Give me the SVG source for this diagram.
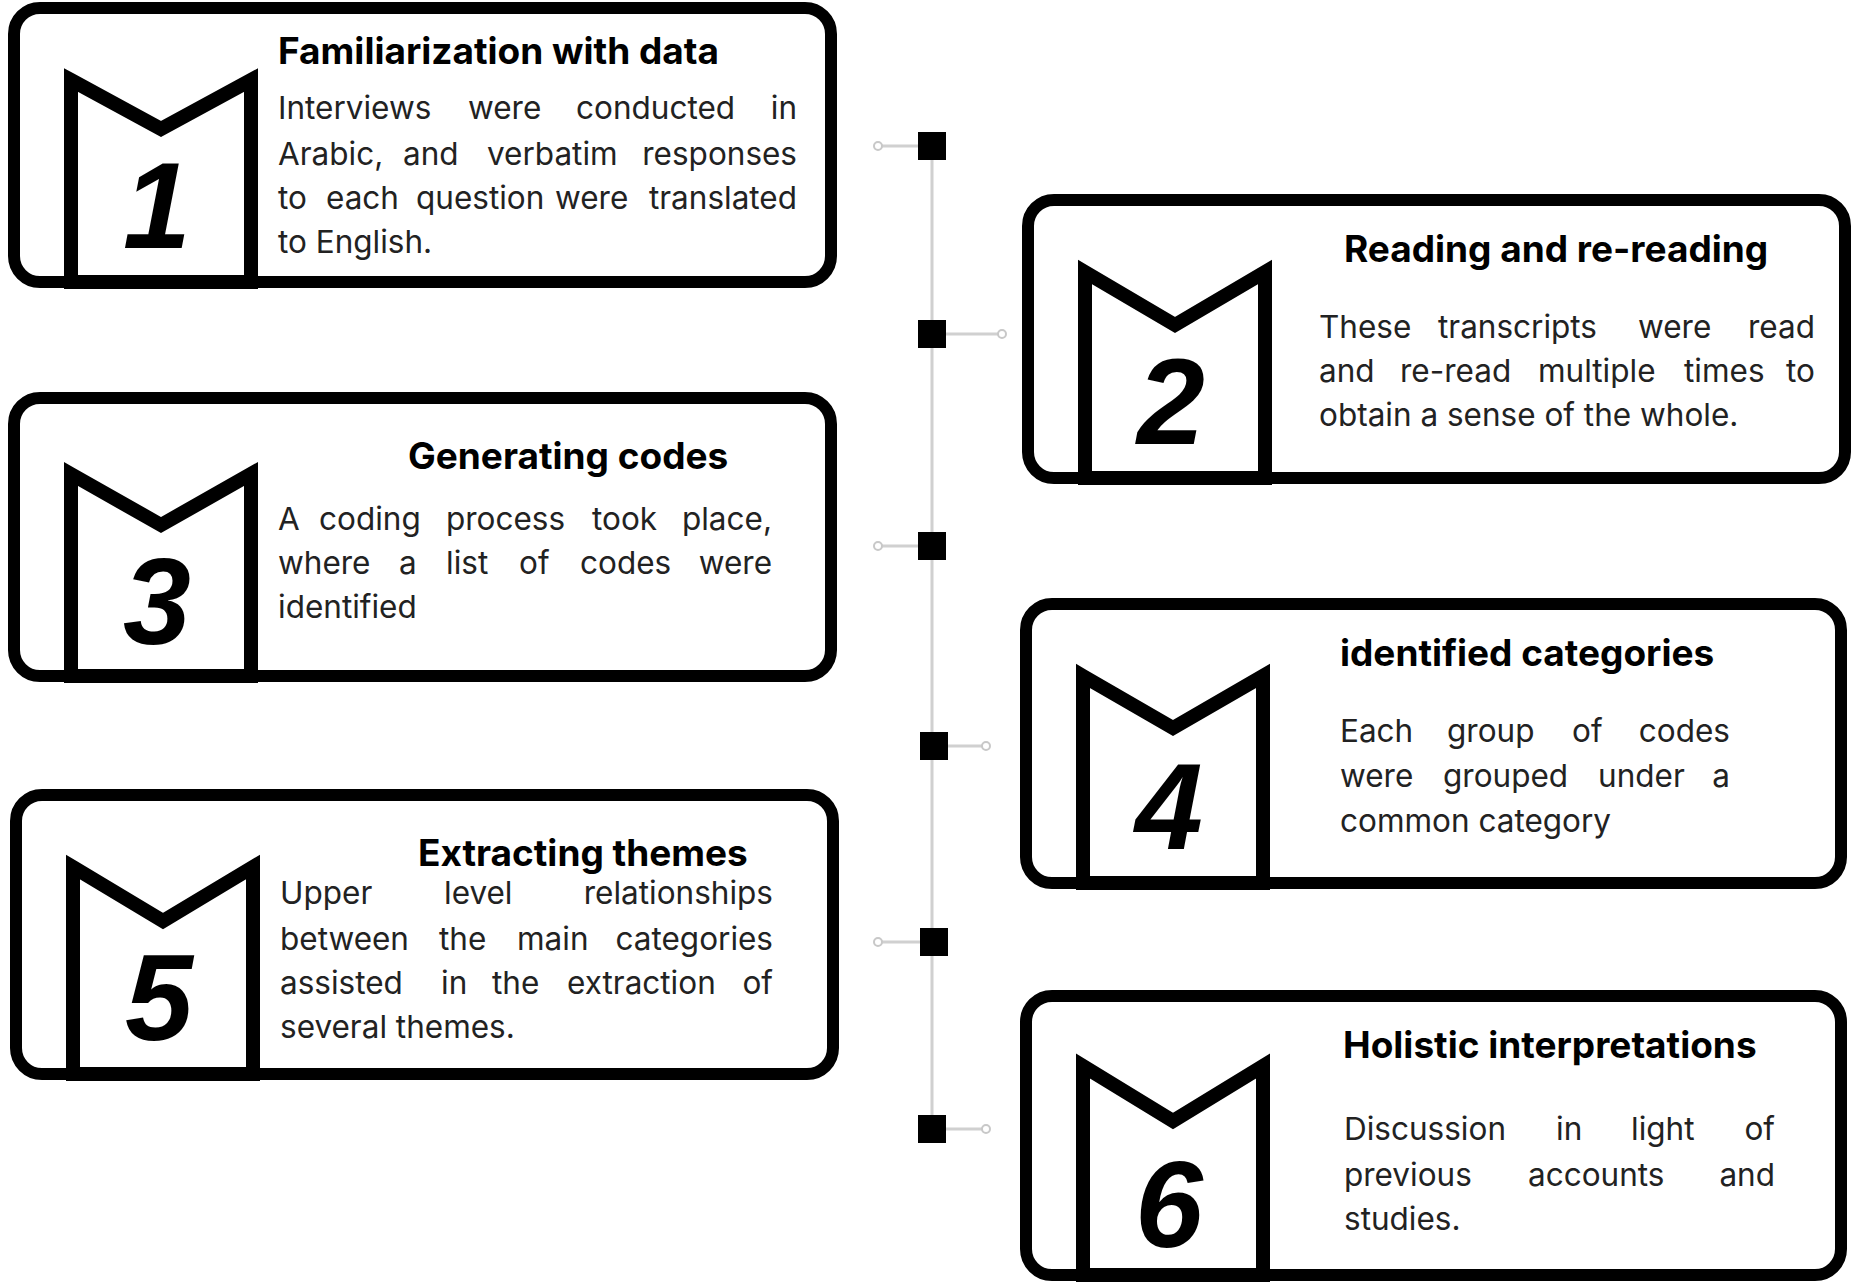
<svg xmlns="http://www.w3.org/2000/svg" width="1861" height="1286" viewBox="0 0 1861 1286">
<style>
.box{fill:#fff;stroke:#000;stroke-width:12}
.rib{fill:#fff;stroke:#000;stroke-width:14;stroke-linejoin:miter}
.num{font-family:"Liberation Sans",Arial,sans-serif;font-weight:bold;font-style:italic;font-size:122px;text-anchor:middle;fill:#000}
.ttl{font-family:Inter,"Liberation Sans",sans-serif;font-weight:bold;font-size:37px;fill:#000}
.body{font-family:Inter,"Liberation Sans",sans-serif;font-size:31.5px;fill:#222}
.e{text-anchor:end}
.tl{stroke:#d0d0d0;stroke-width:3;fill:none}
.dot{fill:#fff;stroke:#c8c8c8;stroke-width:2}
</style>
<rect width="1861" height="1286" fill="#fff"/>
<g id="connectors">
<line class="tl" x1="932" y1="146" x2="932" y2="1129"/>
<line class="tl" x1="880" y1="146" x2="932" y2="146"/><circle class="dot" cx="878" cy="146" r="4"/>
<line class="tl" x1="932" y1="334" x2="998" y2="334"/><circle class="dot" cx="1002" cy="334" r="4"/>
<line class="tl" x1="880" y1="546" x2="932" y2="546"/><circle class="dot" cx="878" cy="546" r="4"/>
<line class="tl" x1="934" y1="746" x2="982" y2="746"/><circle class="dot" cx="986" cy="746" r="4"/>
<line class="tl" x1="880" y1="942" x2="934" y2="942"/><circle class="dot" cx="878" cy="942" r="4"/>
<line class="tl" x1="932" y1="1129" x2="982" y2="1129"/><circle class="dot" cx="986" cy="1129" r="4"/>
<rect x="918" y="132" width="28" height="28"/>
<rect x="918" y="320" width="28" height="28"/>
<rect x="918" y="532" width="28" height="28"/>
<rect x="920" y="732" width="28" height="28"/>
<rect x="920" y="928" width="28" height="28"/>
<rect x="918" y="1115" width="28" height="28"/>
</g>
<g id="node1">
<rect class="box" x="14" y="8" width="817" height="274" rx="26"/>
<path class="rib" d="M71,80 L161,129 L251,80 L251,282 L71,282 Z"/>
<text class="num" x="157" y="248">1</text>
<text class="ttl" x="278" y="64">Familiarization with data</text>
<text class="body" y="119"><tspan x="278">Interviews</tspan><tspan x="468">were</tspan><tspan x="576">conducted</tspan></text><text class="body e" x="797" y="119">in</text>
<text class="body" y="165"><tspan x="278">Arabic,</tspan><tspan x="403">and</tspan><tspan x="487">verbatim</tspan></text><text class="body e" x="797" y="165">responses</text>
<text class="body" y="209"><tspan x="278">to</tspan><tspan x="326">each</tspan><tspan x="416">question</tspan><tspan x="555">were</tspan></text><text class="body e" x="797" y="209">translated</text>
<text class="body" x="278" y="253">to English.</text>
</g>
<g id="node3">
<rect class="box" x="14" y="398" width="817" height="278" rx="26"/>
<path class="rib" d="M71,474 L161,525 L251,474 L251,676 L71,676 Z"/>
<text class="num" x="157" y="644">3</text>
<text class="ttl" x="408" y="469">Generating codes</text>
<text class="body" y="530"><tspan x="278">A</tspan><tspan x="319">coding</tspan><tspan x="446">process</tspan><tspan x="592">took</tspan></text><text class="body e" x="772" y="530">place,</text>
<text class="body" y="574"><tspan x="278">where</tspan><tspan x="399">a</tspan><tspan x="446">list</tspan><tspan x="519">of</tspan><tspan x="580">codes</tspan></text><text class="body e" x="772" y="574">were</text>
<text class="body" x="278" y="618">identified</text>
</g>
<g id="node5">
<rect class="box" x="16" y="795" width="817" height="279" rx="26"/>
<path class="rib" d="M73,867 L163,921 L253,867 L253,1074 L73,1074 Z"/>
<text class="num" x="159" y="1040">5</text>
<text class="ttl" x="418" y="866">Extracting themes</text>
<text class="body" y="904"><tspan x="280">Upper</tspan><tspan x="444">level</tspan></text><text class="body e" x="773" y="904">relationships</text>
<text class="body" y="950"><tspan x="280">between</tspan><tspan x="439">the</tspan><tspan x="517">main</tspan></text><text class="body e" x="773" y="950">categories</text>
<text class="body" y="994"><tspan x="280">assisted</tspan><tspan x="441">in</tspan><tspan x="492">the</tspan><tspan x="567">extraction</tspan></text><text class="body e" x="773" y="994">of</text>
<text class="body" x="280" y="1038">several themes.</text>
</g>
<g id="node2">
<rect class="box" x="1028" y="200" width="817" height="278" rx="26"/>
<path class="rib" d="M1085,272 L1175,325 L1265,272 L1265,478 L1085,478 Z"/>
<text class="num" x="1171" y="444">2</text>
<text class="ttl" x="1344" y="262">Reading and re-reading</text>
<text class="body" y="338"><tspan x="1319">These</tspan><tspan x="1438">transcripts</tspan><tspan x="1638">were</tspan></text><text class="body e" x="1815" y="338">read</text>
<text class="body" y="382"><tspan x="1319">and</tspan><tspan x="1400">re-read</tspan><tspan x="1538">multiple</tspan><tspan x="1684">times</tspan></text><text class="body e" x="1815" y="382">to</text>
<text class="body" x="1319" y="426">obtain a sense of the whole.</text>
</g>
<g id="node4">
<rect class="box" x="1026" y="604" width="815" height="279" rx="26"/>
<path class="rib" d="M1083,676 L1173,728 L1263,676 L1263,883 L1083,883 Z"/>
<text class="num" x="1169" y="849">4</text>
<text class="ttl" x="1340" y="666">identified categories</text>
<text class="body" y="742"><tspan x="1340">Each</tspan><tspan x="1447">group</tspan><tspan x="1572">of</tspan></text><text class="body e" x="1730" y="742">codes</text>
<text class="body" y="787"><tspan x="1340">were</tspan><tspan x="1443">grouped</tspan><tspan x="1598">under</tspan></text><text class="body e" x="1730" y="787">a</text>
<text class="body" x="1340" y="832">common category</text>
</g>
<g id="node6">
<rect class="box" x="1026" y="996" width="815" height="279" rx="26"/>
<path class="rib" d="M1083,1066 L1173,1121 L1263,1066 L1263,1275 L1083,1275 Z"/>
<text class="num" x="1169" y="1247">6</text>
<text class="ttl" x="1343" y="1058">Holistic interpretations</text>
<text class="body" y="1140"><tspan x="1344">Discussion</tspan><tspan x="1556">in</tspan><tspan x="1631">light</tspan></text><text class="body e" x="1775" y="1140">of</text>
<text class="body" y="1186"><tspan x="1344">previous</tspan><tspan x="1528">accounts</tspan></text><text class="body e" x="1775" y="1186">and</text>
<text class="body" x="1344" y="1230">studies.</text>
</g>
</svg>
